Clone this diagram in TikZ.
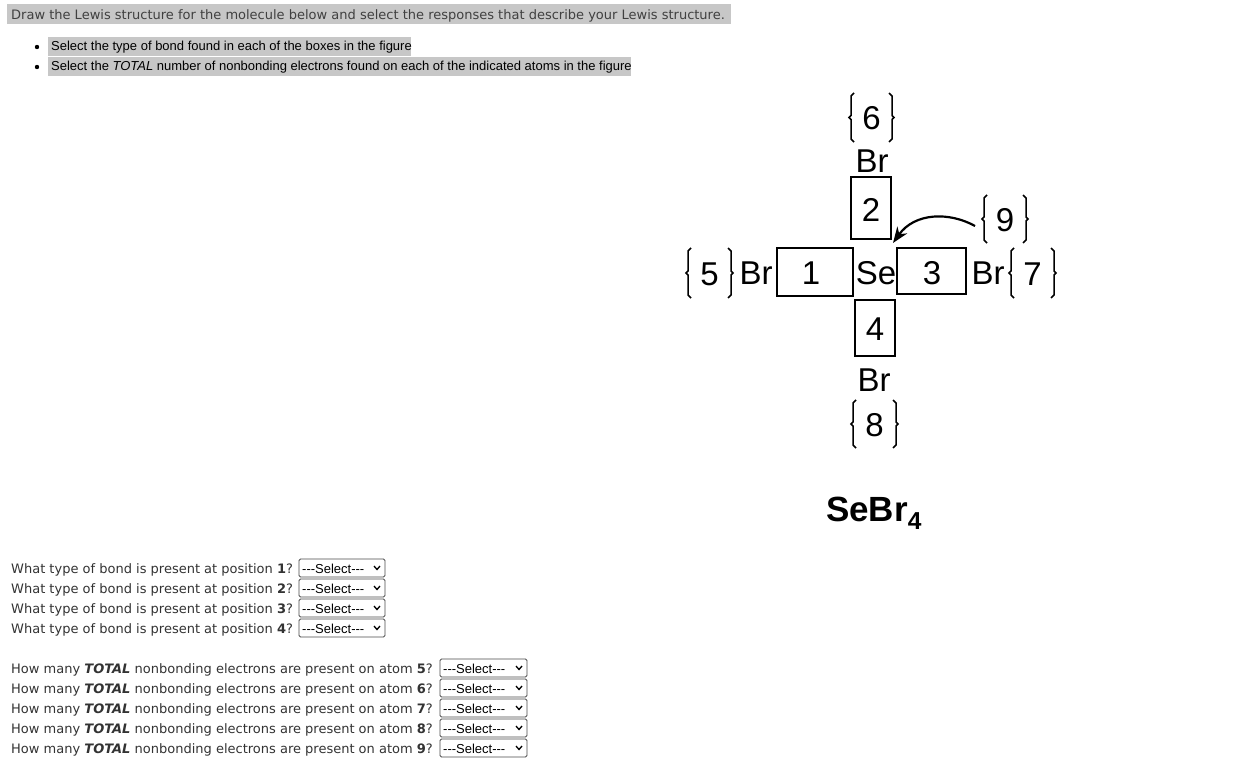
\documentclass[tikz,border=0pt]{standalone}
\usepackage{fontspec}
\setmainfont{DejaVu Sans}
\newfontfamily\arial{Liberation Sans}
\usetikzlibrary{arrows.meta}
\tikzset{
  q/.style={anchor=west,inner sep=0,font=\fontsize{13}{15}\selectfont,text=black!80},
  bul/.style={anchor=west,inner sep=0,font=\arial\fontsize{13}{15}\selectfont},
  mol/.style={inner sep=0,font=\arial\fontsize{33}{35}\selectfont},
  bondbox/.style={draw,line width=2pt},
  sel/.style={draw=black!70,line width=0.8pt,rounded corners=1.5pt},
  seltxt/.style={anchor=west,inner sep=0,font=\arial\fontsize{13}{15}\selectfont}
}
\newcommand{\brk}[6]{% name, xl, xr, top, bot, label
  \draw[line width=1.5pt] (#2+3,#4) -- (#2,#4+3) -- (#2,{(#4+#5)/2-2}) -- (#2-2,{(#4+#5)/2}) -- (#2,{(#4+#5)/2+2}) -- (#2,#5-3) -- (#2+3,#5);
  \draw[line width=1.5pt] (#3-3,#4) -- (#3,#4+3) -- (#3,{(#4+#5)/2-2}) -- (#3+2,{(#4+#5)/2}) -- (#3,{(#4+#5)/2+2}) -- (#3,#5-3) -- (#3-3,#5);
  \node[mol] (#1) at ({(#2+#3)/2},{(#4+#5)/2+1}) {#6};}
\newcommand{\selbox}[4]{% name, x1, x2, ymid
  \draw[sel] (#2,#4-9) rectangle (#3,#4+9);
  \node[seltxt] (#1) at (#2+3,#4+0.5) {---Select---};
  \draw[line width=1.3pt] (#3-11,#4-2) -- (#3-8,#4+1.5) -- (#3-5,#4-2);}
\begin{document}
\begin{tikzpicture}[x=1pt,y=-1pt]
\useasboundingbox (0,0) rectangle (1239,776);
\fill[white] (0,0) rectangle (1239,776);
% header
\fill[black!22] (7,4) rectangle (731,24);
\node[q,text=black!75] (h) at (11,15.5) {Draw the Lewis structure for the molecule below and select the responses that describe your Lewis structure.};
\fill[black!22] (48,37) rectangle (411,56);
\fill[black!22] (48,57) rectangle (631,76);
\fill (37,47) circle (2.2);
\fill (37,67) circle (2.2);
\node[bul] (b1) at (51,47.5) {Select the type of bond found in each of the boxes in the figure};
\node[bul] (b2) at (51,67.5) {Select the \textit{TOTAL} number of nonbonding electrons found on each of the indicated atoms in the figure};
% molecule
\brk{n6}{851}{892}{93}{142}{6}
\node[mol] (brt) at (872,161) {Br};
\draw[bondbox] (851,177) rectangle (891,239); \node[mol] (p2) at (871,210) {2};
\draw[bondbox] (777,248) rectangle (853,296); \node[mol] (p1) at (811,273) {1};
\node[mol] (se) at (876,273) {Se};
\draw[bondbox] (897,248) rectangle (966,294); \node[mol] (p3) at (932,273) {3};
\draw[bondbox] (855,300) rectangle (895,356); \node[mol] (p4) at (875,329) {4};
\node[mol] (brb) at (874,380) {Br};
\brk{n8}{853}{896}{400}{448}{8}
\brk{n5}{688}{731}{248}{298}{5}
\node[mol] (brl) at (756,273) {Br};
\node[mol] (brr) at (988,273) {Br};
\brk{n7}{1011}{1054}{248}{298}{7}
\brk{n9}{984}{1026}{195}{243}{9}
\coordinate (tail) at (975,226);
\coordinate (tip) at (893,243);
\draw[line width=2.2pt,-{Stealth[length=16pt,width=12pt]}] (tail) .. controls (950,212) and (915,212) .. (tip);
\node[inner sep=0,font=\arial\bfseries\fontsize{35}{37}\selectfont] (f) at (874,513) {SeBr\textsubscript{4}};
% questions
\foreach \i/\y in {1/568,2/588,3/608,4/628}{
  \node[q] (qa\i) at (11,\y+1.5) {What type of bond is present at position \textbf{\i}?};
  \selbox{sa\i}{299}{385}{\y}
}
\foreach \i/\y in {5/668,6/688,7/708,8/728,9/748}{
  \node[q] (qb\i) at (11,\y+1.5) {How many \textbf{\textit{TOTAL}} nonbonding electrons are present on atom \textbf{\i}?};
  \selbox{sb\i}{440}{527}{\y}
}
\end{tikzpicture}
\end{document}
